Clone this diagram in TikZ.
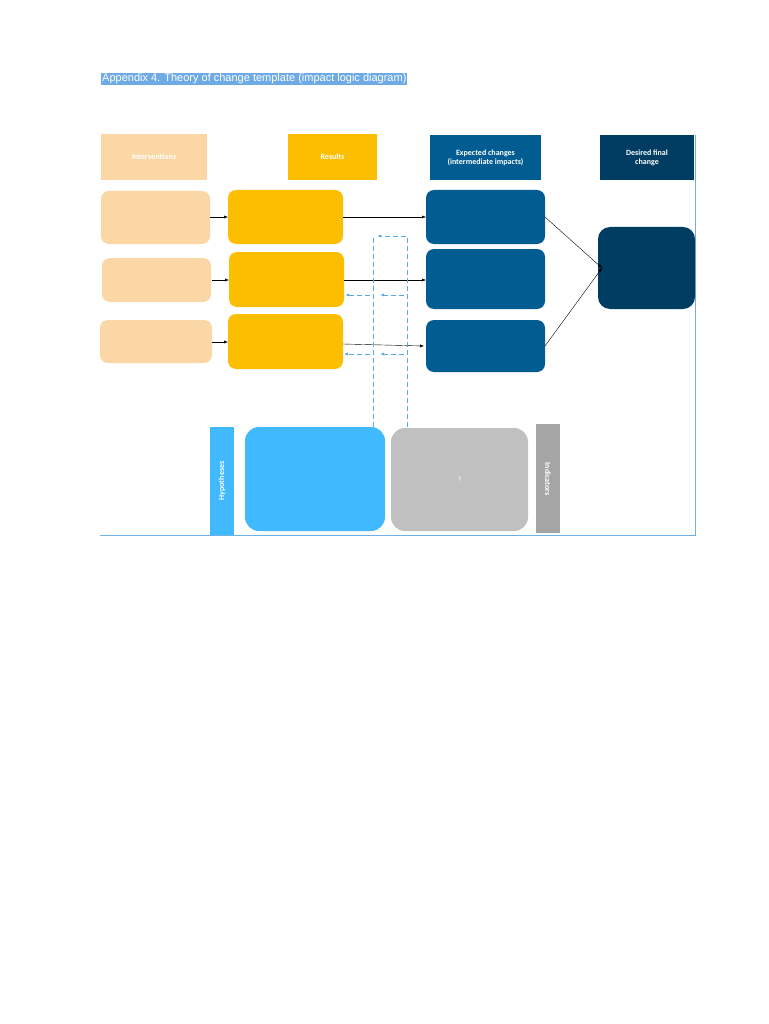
\documentclass[tikz,border=0pt]{standalone}
\usepackage{fontspec}
\setmainfont{Liberation Sans}
\newfontfamily\carl{Carlito}
\usetikzlibrary{arrows.meta}
\definecolor{peach}{RGB}{250,215,165}
\definecolor{gold}{RGB}{252,190,0}
\definecolor{midblue}{RGB}{1,92,145}
\definecolor{darkblue}{RGB}{1,60,98}
\definecolor{skyblue}{RGB}{64,185,255}
\definecolor{lgray}{RGB}{192,192,192}
\definecolor{dgray}{RGB}{165,165,165}
\definecolor{lineblue}{RGB}{110,175,230}
\definecolor{dashblue}{RGB}{90,170,225}
\definecolor{hlblue}{RGB}{110,170,228}
\begin{document}
\begin{tikzpicture}[x=1pt,y=-1pt,
  hdr/.style={fill=#1,font=\carl\bfseries\fontsize{8}{9}\selectfont,text=white,align=center},
  rbox/.style={fill=#1,rounded corners=8pt},
  arr/.style={-{Latex[length=4pt,width=3pt]},black,thin},
  dline/.style={dashblue,thick,dash pattern=on 5pt off 3pt},
  darr/.style={dline,-{Latex[length=4pt,width=3pt]}}]
\useasboundingbox[fill=white] (0,0) rectangle (768,1024);
\node[fill=hlblue,text=white,font=\fontsize{11}{12}\selectfont,inner sep=1pt,anchor=west] (title) at (101,79) {Appendix 4. Theory of change template (impact logic diagram)};
% headers
\path[hdr=peach] (101,134) rectangle (207,180) node[midway] (h1) {Interventions};
\path[hdr=gold] (288,134) rectangle (377,180) node[midway] (h2) {Results};
\path[hdr=midblue] (430,135) rectangle (541,180) node[midway] (h3) {Expected changes\\(intermediate impacts)};
\path[hdr=darkblue] (600,135) rectangle (694,180) node[midway] (h4) {Desired final\\change};
% outline
\draw[lineblue,thick] (695,135) -- (695,535) -- (100,535);
% boxes
\path[rbox=peach] (101,191) rectangle (210,244);
\path[rbox=peach] (102,258) rectangle (211,302);
\path[rbox=peach] (100,320) rectangle (212,363);
\path[rbox=gold] (228,190) rectangle (343,244);
\path[rbox=gold] (229,252) rectangle (344,307);
\path[rbox=gold] (228,314) rectangle (343,369);
\path[rbox=midblue] (426,190) rectangle (545,244);
\path[rbox=midblue] (426,249) rectangle (545,309);
\path[rbox=midblue] (426,320) rectangle (545,372);
\path[rbox=darkblue,rounded corners=12pt] (598,227) rectangle (695,309);
\coordinate (i1) at (210,217); \coordinate (r1w) at (228,217);
\coordinate (r1e) at (343,217); \coordinate (e1w) at (426,217);
\coordinate (i2) at (212,280); \coordinate (r2w) at (229,280);
\coordinate (r2e) at (344,280); \coordinate (e2w) at (426,280);
\coordinate (i3) at (212,342); \coordinate (r3w) at (228,342);
\coordinate (r3e) at (343,344); \coordinate (e3w) at (424,346);
\coordinate (e1e) at (545,217); \coordinate (e3e) at (545,346);
\coordinate (fw) at (602,268);
\draw[arr] (i1) -- (r1w); \draw[arr] (r1e) -- (e1w);
\draw[arr] (i2) -- (r2w); \draw[arr] (r2e) -- (e2w);
\draw[arr] (i3) -- (r3w); \draw[arr] (r3e) -- (e3w);
\draw[arr] (e1e) -- (fw); \draw[arr] (e3e) -- (fw);
% bottom
\fill[skyblue] (210,427) rectangle (234,535);
\node[rotate=90,font=\carl\bfseries\fontsize{8}{9}\selectfont,text=white] (hyp) at (222,481) {Hypotheses};
\path[rbox=skyblue,rounded corners=14pt] (245,427) rectangle (385,531);
\path[rbox=lgray,rounded corners=14pt] (391,428) rectangle (528,531) node[midway,text=white,font=\carl\fontsize{8}{9}\selectfont] (gb) {?};
\fill[dgray] (536,424) rectangle (560,533);
\node[rotate=-90,font=\carl\bfseries\fontsize{8}{9}\selectfont,text=white] (ind) at (548,479) {Indicators};
% dashed
\draw[dline] (373,427) -- (373,238);
\draw[darr] (407,427) -- (407,236) -- (377,236);
\draw[darr] (404,295) -- (380,295);
\draw[darr] (370,295) -- (345,295);
\draw[darr] (404,354) -- (380,354);
\draw[darr] (370,354) -- (344,354);
\end{tikzpicture}
\end{document}
